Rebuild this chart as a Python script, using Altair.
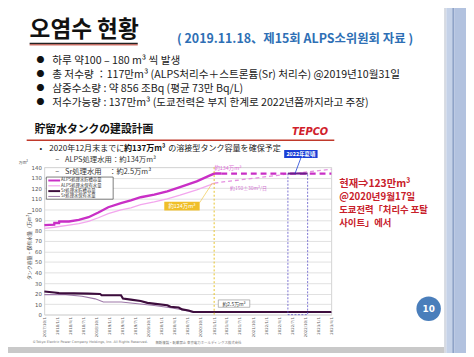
import altair as alt
import pandas as pd

# ---------------- data ----------------
series_names = ["ALPS処理水貯槽容量", "ALPS処理水保有水量", "Sr処理水貯槽容量", "Sr処理水保有水量"]

alps_cap_dates = ["2017-10-01", "2017-12-09", "2017-12-10", "2018-01-12", "2018-01-13", "2018-03-22",
                  "2018-05-30", "2018-08-06", "2018-10-14", "2018-12-22", "2019-03-21", "2019-05-29",
                  "2019-08-06", "2019-11-09", "2020-02-08", "2020-05-07", "2020-09-01", "2020-11-29",
                  "2021-01-03", "2021-02-20"]
alps_cap_vals = [85, 85.5, 87, 87, 88.5, 88.5, 90, 92.5, 97, 102, 106, 108.5, 111.5, 114, 117, 121,
                 126.5, 132, 134, 134]

alps_hold_dates = ["2017-10-01", "2017-12-09", "2018-03-22", "2018-05-30", "2018-08-06", "2018-10-14",
                   "2018-12-22", "2019-03-21", "2019-05-29", "2019-08-06", "2019-11-09", "2020-02-08",
                   "2020-05-07", "2020-09-01", "2020-11-29", "2021-01-03"]
alps_hold_vals = [82, 83, 85, 86.5, 88.5, 92, 96, 99.5, 101.5, 104.5, 107, 110, 113.5, 118.5, 123, 125]

alps_hold_fc_dates = ["2021-01-03", "2021-07-01", "2022-01-01", "2022-07-01", "2023-04-01"]
alps_hold_fc_vals = [125, 128, 131, 134, 138]

alps_cap_plan_dates = ["2021-02-20", "2023-04-01"]
alps_cap_plan_vals = [134, 134]

sr_cap_dates = ["2017-10-01", "2017-12-09", "2018-01-12", "2018-08-06", "2018-10-26", "2018-11-06",
                "2019-03-21", "2019-04-04", "2019-05-29", "2019-08-06", "2019-09-22", "2019-11-18",
                "2020-02-08", "2020-03-01", "2020-04-28", "2020-05-21", "2020-07-06", "2020-08-09",
                "2023-04-01"]
sr_cap_vals = [22, 21, 20.5, 20, 19.6, 18.4, 18.4, 15.3, 14.3, 13, 11.2, 10.3, 9, 7.5, 6.8, 5, 4, 2.5, 2.5]

sr_hold_dates = ["2017-10-01", "2018-02-27", "2018-06-21", "2018-09-22", "2018-11-18", "2019-03-23",
                 "2019-07-16", "2019-11-08", "2020-03-01", "2020-06-01", "2020-08-09", "2023-04-01"]
sr_hold_vals = [19, 19, 17.5, 15, 12, 12, 10.3, 8.7, 6.5, 4.4, 2, 2]

summer2022 = ["2022-06-01", "2022-10-17"]
summer2022_top = 134
end2020 = "2021-01-01"

y_ticks = list(range(0, 141, 10))
tick_dates = [(2017, 10)] + [(y, m) for y in range(2018, 2023) for m in (1, 4, 7, 10)] + [(2023, 1), (2023, 4)]

# ---------------- layout helpers ----------------
OX, OY = 45, 167          # plot origin in page pixels
JP = "Noto Sans CJK JP"
KR = "Noto Sans CJK KR"
one = pd.DataFrame({"k": [0]})


def txt(s, x, y, size, color="#111", weight="normal", font=JP, align="left", angle=0, style="normal"):
    kw = dict(text=s, fontSize=size, color=color, fontWeight=weight, font=font, align=align,
              baseline="middle", fontStyle=style)
    if angle:
        kw["angle"] = angle
    return alt.Chart(one).mark_text(**kw).encode(x=alt.value(x - OX), y=alt.value(y - OY))


def box(x1, x2, y1, y2, fill, stroke=None, sw=0.6, dash=None):
    kw = dict(fill=fill)
    if stroke:
        kw["stroke"] = stroke
        kw["strokeWidth"] = sw
    if dash:
        kw["strokeDash"] = dash
    return alt.Chart(one).mark_rect(**kw).encode(
        x=alt.value(x1 - OX), x2=alt.value(x2 - OX), y=alt.value(y1 - OY), y2=alt.value(y2 - OY))


def seg(x1, y1, x2, y2, color, w=1.0, dash=None):
    kw = dict(color=color, strokeWidth=w)
    if dash:
        kw["strokeDash"] = dash
    return alt.Chart(one).mark_rule(**kw).encode(
        x=alt.value(x1 - OX), x2=alt.value(x2 - OX), y=alt.value(y1 - OY), y2=alt.value(y2 - OY))


def dt(y, m, d=1):
    return alt.DateTime(year=y, month=m, date=d, utc=True)


x_scale = alt.Scale(type="utc", domain=[dt(2017, 10), dt(2023, 4)], nice=False)
y_scale = alt.Scale(domain=[0, 140], nice=False)
x_axis = alt.Axis(values=[dt(y, m) for y, m in tick_dates], format="%Y/%-m/%-d", labelAngle=270)
y_axis = alt.Axis(values=y_ticks)


def X(field):
    return alt.X(field, title=None, scale=x_scale, axis=x_axis)


def Y(field):
    return alt.Y(field, title=None, scale=y_scale, axis=y_axis)


def line(dates, vals, color, w, dash=None):
    df = pd.DataFrame({"date": dates, "value": vals})
    kw = dict(color=color, strokeWidth=w)
    if dash:
        kw["strokeDash"] = dash
    return alt.Chart(df).mark_line(**kw).encode(x=X("date:T"), y=Y("value:Q"))


C_ALPS_CAP = "#c92fc6"
C_ALPS_HOLD = "#f3a6ee"
C_SR_CAP = "#3d0d3d"
C_SR_HOLD = "#9d78a8"

layers = []

# slide decorations
layers.append(box(451.7, 454, 0, 360, "#d6dae2"))
layers.append(box(454, 460, 0, 360, "#c5d2e8"))
layers.append(box(460, 462, 0, 360, "#8fa3c8"))
layers.append(box(462, 480, 0, 360, "#b2c2df"))
layers.append(box(0, 451.7, 350, 360, "#c9c9c9"))

# data lines
layers.append(line(alps_hold_dates, alps_hold_vals, C_ALPS_HOLD, 1.3))
layers.append(line(alps_hold_fc_dates, alps_hold_fc_vals, "#e58fe0", 1.3, dash=[4, 3]))
layers.append(line(alps_cap_dates, alps_cap_vals, C_ALPS_CAP, 2.4))
layers.append(line(alps_cap_plan_dates, alps_cap_plan_vals, C_ALPS_CAP, 2.2, dash=[6, 4]))
layers.append(line(sr_hold_dates, sr_hold_vals, C_SR_HOLD, 1.1))
layers.append(line(sr_cap_dates, sr_cap_vals, C_SR_CAP, 2.2))

# 2020-end yellow dotted line
layers.append(alt.Chart(pd.DataFrame({"date": [end2020]})).mark_rule(
    color="#e6c229", strokeWidth=1, strokeDash=[2, 2]).encode(x=X("date:T")))

# summer-2022 dashed box
rect_df = pd.DataFrame({"start": [summer2022[0]], "end": [summer2022[1]], "top": [summer2022_top], "bottom": [0]})
layers.append(alt.Chart(rect_df).mark_rect(fillOpacity=0, stroke="#5a50c8", strokeWidth=0.8,
                                           strokeDash=[2, 1.5]).encode(
    x=X("start:T"), x2="end:T", y=Y("top:Q"), y2="bottom:Q"))
layers.append(alt.Chart(rect_df).mark_rule(color="#6a1f8a", strokeWidth=2).encode(
    x=X("start:T"), x2="end:T", y=Y("top:Q")))

# legend
layers.append(box(47, 115, 177, 199.5, "#ffffff", stroke="#444", sw=0.7))
leg_styles = [(C_ALPS_CAP, 2.0), (C_ALPS_HOLD, 1.2), (C_SR_CAP, 2.0), (C_SR_HOLD, 1.0)]
for i, (name, (c, w)) in enumerate(zip(series_names, leg_styles)):
    yy = 180.5 + i * 5.4
    layers.append(seg(49, yy, 61, yy, c, w))
    layers.append(txt(name, 62, yy, 4.4, color="#333"))

# chart annotations
layers.append(txt("約134万m³", 218, 168, 5.5, color="#e070d8"))
layers.append(txt("約150±30m³/日", 234, 188, 5, color="#d070d0"))
layers.append(seg(203, 203, 216, 183, "#f0c74a", 0.7))
layers.append(box(167, 203, 202, 211, "#f0bf2a"))
layers.append(txt("約124万m³", 185, 206.5, 5.5, color="#ffffff", align="center"))
layers.append(box(222, 254, 302, 309.5, "#ffffff", stroke="#888", sw=0.6))
layers.append(txt("約2.5万m³", 238, 305.8, 5, color="#333", align="center"))
layers.append(seg(306, 157.5, 300, 173.5, "#1a3fd6", 0.8))
layers.append(box(289, 323, 149.5, 157.5, "#1a3fd6"))
layers.append(txt("2022年夏頃", 306, 153.5, 5.5, color="#ffffff", weight="bold", align="center"))
layers.append(txt("タンク容量・保有水量（万m³）", 29, 246, 5, color="#444", angle=270, align="center"))
layers.append(txt("万m³", 19, 163, 4, color="#444"))
layers.append(txt("©Tokyo Electric Power Company Holdings, Inc. All Rights Reserved.", 33, 345, 3.5,
                  color="#777", font="DejaVu Sans"))
layers.append(txt("無断複製・転載禁止 東京電力ホールディングス株式会社", 158, 346, 3.5, color="#777"))

# chart header
layers.append(txt("貯留水タンクの建設計画", 35, 129, 11, weight="bold"))
layers.append(seg(27, 139.5, 340, 139.5, "#c0392b", 1.5))
layers.append(txt("TEPCO", 297, 131, 10, color="#d0202a", weight="bold", font="DejaVu Sans", style="italic"))
layers.append(txt("•", 40, 148, 8, color="#222"))
layers.append(txt("2020年12月末までに", 50, 148, 8.2, color="#222"))
layers.append(txt("約137万m³", 126, 148, 8.2, color="#111", weight="bold"))
layers.append(txt("の溶接型タンク容量を確保予定", 171, 148, 8.2, color="#222"))
layers.append(txt("–", 56, 160, 7.5, color="#333"))
layers.append(txt("ALPS処理水用：約134万m³", 66, 160, 7.5, color="#333"))
layers.append(txt("–", 56, 172, 7.5, color="#333"))
layers.append(txt("Sr処理水用　：約2.5万m³", 66, 172, 7.5, color="#333"))

# slide header
layers.append(txt("오염수 현황", 30, 28, 23, weight="bold", font=KR))
layers.append(seg(30, 41, 140, 41, "#222", 1.5))
layers.append(seg(30, 42.5, 140, 42.5, "#c0392b", 1))
layers.append(txt("( 2019.11.18、제15회 ALPS소위원회 자료 )", 180, 37, 12.6, color="#2e6fb5", weight="bold", font=KR))
bullets = [
    "하루 약100 – 180 m³  씩 발생",
    "총 저수량 ：117만m³  (ALPS처리수＋스트론튬(Sr) 처리수)  @2019년10월31일",
    "삼중수소량 : 약 856 조Bq  (평균 73만 Bq/L)",
    "저수가능량 : 137만m³  (도쿄전력은 부지 한계로 2022년쯤까지라고 주장)",
]
for i, b in enumerate(bullets):
    yy = 59 + i * 14.3
    layers.append(txt("●", 37, yy, 8, color="#111", font=KR))
    layers.append(txt(b, 53, yy, 10.8, color="#1a1a1a", font=KR))

# right-side red notes
notes = ["현재⇒123만m³", "@2020년9월17일", "도쿄전력「처리수 포탈", "사이트」에서"]
note_y = [184, 197.3, 210.3, 223.5]
note_size = [10.5, 9.8, 9.5, 9.5]
for s, yy, fs in zip(notes, note_y, note_size):
    layers.append(txt(s, 345, yy, fs, color="#c8202a", weight="bold", font=KR))

# page number
layers.append(alt.Chart(one).mark_circle(size=620, color="#4a7ebb", opacity=1).encode(
    x=alt.value(436 - OX), y=alt.value(311 - OY)))
layers.append(txt("10", 436, 311, 9, color="#ffffff", weight="bold", font="DejaVu Sans", align="center"))

chart = alt.layer(*layers).properties(
    width=292, height=150,
    padding={"left": 37, "top": 159, "right": 137, "bottom": 36},
    autosize=alt.AutoSizeParams(type="none"),
    background="#ffffff",
).configure_view(
    stroke="#c8c8c8", strokeWidth=0.8
).configure_axisX(
    labelFontSize=4, labelColor="#666", grid=False, ticks=False, domain=False, labelPadding=2,
    labelFont="DejaVu Sans", labelOverlap=False, labelFlush=False, labelBound=False
).configure_axisY(
    labelFontSize=5.5, labelColor="#555", grid=True, gridColor="#d9d9d9", gridWidth=0.8, ticks=False,
    domain=False, labelPadding=3, labelFont="DejaVu Sans", labelOverlap=False, labelFlush=False,
    labelBound=False
)

chart.save("out.html", embed_options={"renderer": "svg", "actions": False})
